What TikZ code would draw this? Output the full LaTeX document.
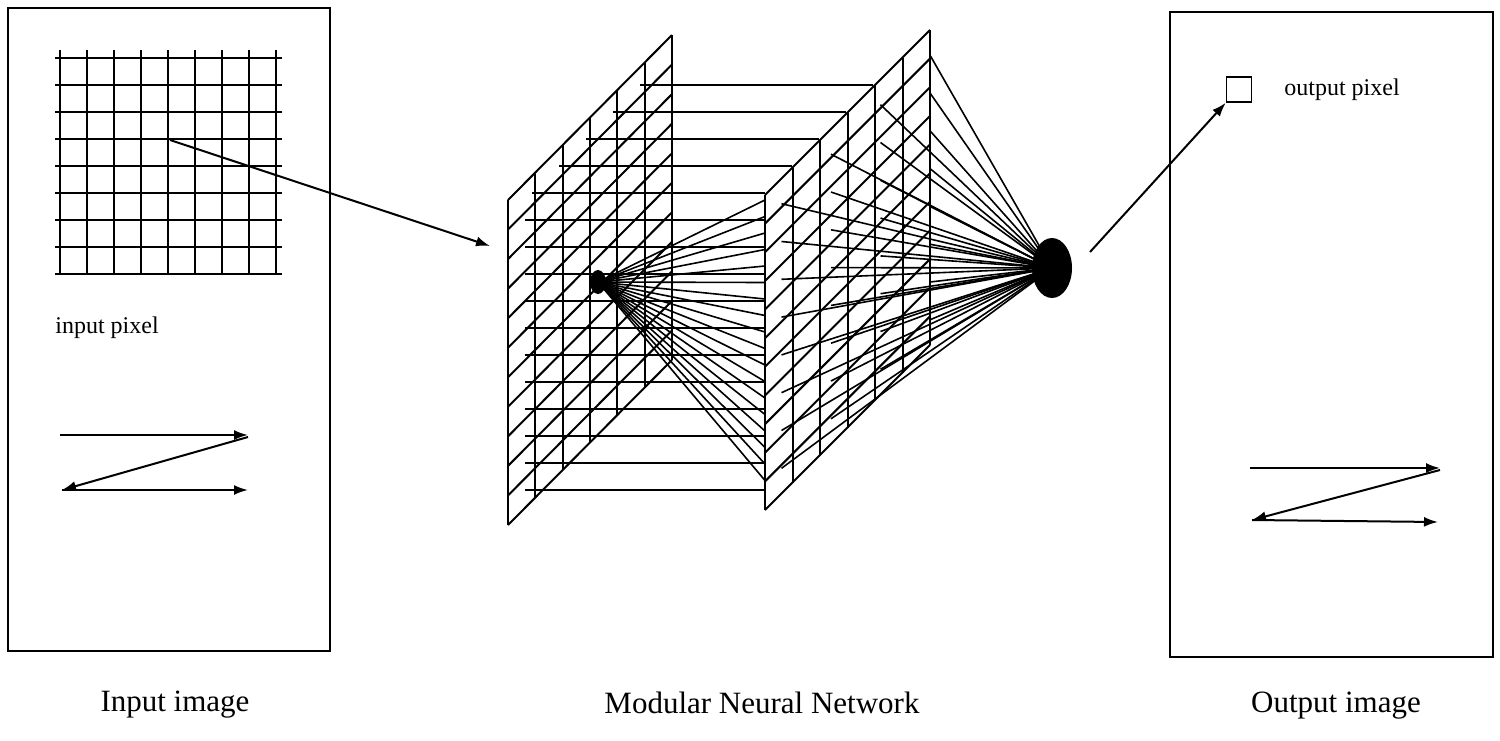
\documentclass[tikz,border=0pt]{standalone}
\usepackage{fontspec}
\setmainfont{Liberation Serif}
\usetikzlibrary{arrows.meta,shapes.geometric}
\begin{document}
\begin{tikzpicture}[x=1pt,y=-1pt,line width=2pt,
  ln/.style={line width=2pt},
  thin/.style={line width=1.6pt},
  arr/.style={line width=2pt,-{Latex[length=14pt,width=10pt]}},
  captxt/.style={font=\fontsize{31}{36}\selectfont},
  lab/.style={font=\fontsize{24}{28}\selectfont}]
\useasboundingbox (0,0) rectangle (1500,740);
% input image
\node[draw,ln,minimum width=322pt,minimum height=643pt,inner sep=0] (inbox) at (169,329.5) {};
\foreach \i in {0,...,8}{
  \pgfmathsetmacro\xx{60+27*\i}
  \draw[thin] (\xx,50) -- (\xx,273);
  \pgfmathsetmacro\yy{58+27*\i}
  \draw[thin] (55,\yy) -- (282,\yy);}
\coordinate (inpix) at (170,140);
\node[lab] (inlab) at (107,328) {input pixel};
\coordinate (z1a) at (60,435); \coordinate (z1b) at (248,435);
\coordinate (z2a) at (248,437); \coordinate (z2b) at (62,490);
\coordinate (z3b) at (248,490);
\draw[arr] (z1a) -- (z1b);
\draw[arr] (z2a) -- (z2b);
\draw[arr] (z2b) -- (z3b);
\node[captxt] (incap) at (175,705) {Input image};
% network
\coordinate (netin) at (490,246);
\draw[arr] (inpix) -- (netin);
% horizontal connections
\foreach \k in {0,...,15}{
  \pgfmathsetmacro\yy{85+27*\k}
  \pgfmathsetmacro\xs{max(525,525+200-\yy)}
  \pgfmathsetmacro\xe{max(765,958-\yy)}
  \draw[ln] (\xs,\yy) -- (\xe,\yy);}
% panel A
\foreach \i in {0,...,6}{
  \pgfmathsetmacro\xa{508+164*\i/6}
  \pgfmathsetmacro\ya{525-165*\i/6}
  \pgfmathsetmacro\yb{\ya-325}
  \draw[ln] (\xa,\ya) -- (\xa,\yb);}
\foreach \j in {0,...,11}{
  \pgfmathsetmacro\ya{525-325*\j/11}
  \pgfmathsetmacro\yb{\ya-165}
  \draw[ln] (508,\ya) -- (672,\yb);}
% fan from focus
\coordinate (focus) at (598,282);
\fill (focus) ellipse (8pt and 12pt);
\foreach \k in {0,...,17}{
  \pgfmathsetmacro\yy{200+16.5*\k}
  \draw[thin] (focus) -- (765,\yy);}
% panel B
\foreach \i in {0,...,6}{
  \pgfmathsetmacro\xa{765+165*\i/6}
  \pgfmathsetmacro\ya{510-165*\i/6}
  \pgfmathsetmacro\yb{\ya-315}
  \draw[ln] (\xa,\ya) -- (\xa,\yb);}
\foreach \j in {0,...,11}{
  \pgfmathsetmacro\ya{510-315*\j/11}
  \pgfmathsetmacro\yb{\ya-165}
  \draw[ln] (765,\ya) -- (930,\yb);}
% output neuron
\node[fill,ellipse,minimum width=40pt,minimum height=60pt,inner sep=0] (neuron) at (1052,268) {};
\foreach \s in {0.1,0.4,0.7,1.0}{
  \foreach \t in {0.08,0.2,0.32,0.44,0.56,0.68,0.8,0.92}{
    \pgfmathsetmacro\xa{765+165*\s}
    \pgfmathsetmacro\ya{510-165*\s-315*\t}
    \draw[thin] (\xa,\ya) -- (neuron.center);}}
% output image
\node[draw,ln,minimum width=323pt,minimum height=645pt,inner sep=0] (outbox) at (1331.5,334.5) {};
\node[draw,thin,minimum width=25pt,minimum height=25pt,inner sep=0] (outpix) at (1239,89.5) {};
\node[lab,anchor=west] (outlab) at (1280,90) {output pixel};
\coordinate (netout) at (1090,252);
\draw[arr] (netout) -- (outpix.south west);
\coordinate (o1a) at (1250,468); \coordinate (o1b) at (1440,468);
\coordinate (o2a) at (1440,470); \coordinate (o2b) at (1252,520);
\coordinate (o3b) at (1438,522);
\draw[arr] (o1a) -- (o1b);
\draw[arr] (o2a) -- (o2b);
\draw[arr] (o2b) -- (o3b);
\node[captxt] (outcap) at (1336,706) {Output image};
\node[captxt] (netcap) at (762,703) {Modular Neural Network};
\end{tikzpicture}
\end{document}
